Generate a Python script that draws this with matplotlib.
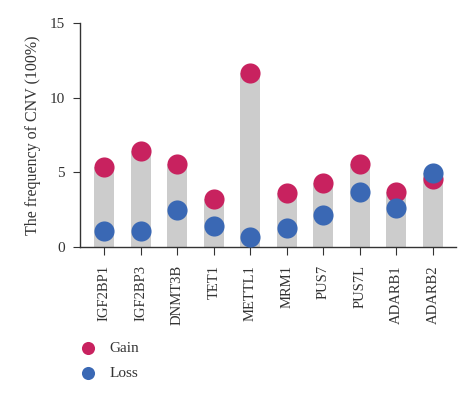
import matplotlib.pyplot as plt
import numpy as np

genes = ["IGF2BP1", "IGF2BP3", "DNMT3B", "TET1", "METTL1",
         "MRM1", "PUS7", "PUS7L", "ADARB1", "ADARB2"]
gain = [5.34, 6.43, 5.54, 3.21, 11.63, 3.60, 4.31, 5.54, 3.66, 4.55]
loss = [1.07, 1.09, 2.48, 1.41, 0.65, 1.25, 2.14, 3.70, 2.63, 4.93]

plt.rcParams['font.family'] = ['Liberation Serif', 'DejaVu Serif']

fig = plt.figure(figsize=(4.74, 3.99), dpi=100)
ax = fig.add_axes([0.169, 0.381, 0.793, 0.561])

x = np.arange(len(genes))
top = np.maximum(gain, loss)
ax.bar(x, top, width=0.55, color="#cccccc", zorder=1)
g = ax.scatter(x, gain, s=210, color="#c8225f", zorder=2, label="Gain", linewidths=0)
l = ax.scatter(x, loss, s=210, color="#3a68b4", zorder=3, label="Loss", linewidths=0)

ax.set_xlim(-0.66, 9.63)
ax.set_ylim(0, 15)
ax.set_yticks([0, 5, 10, 15])
ax.set_xticks(x)
ax.set_xticklabels(genes, rotation=90, fontsize=10.5, color="#333333")
ax.tick_params(axis="y", labelsize=11, length=5, colors="#333333", labelcolor="#333333", pad=6)
ax.tick_params(axis="x", length=6, color="#333333", pad=7)
ax.set_ylabel("The frequency of CNV (100%)", fontsize=11.5, color="#333333", labelpad=6)
for s in ["top", "right"]:
    ax.spines[s].set_visible(False)
for s in ["left", "bottom"]:
    ax.spines[s].set_color("#333333")
    ax.spines[s].set_linewidth(1.0)

fig.legend(handles=[g, l], loc="upper left", bbox_to_anchor=(0.125, 0.18),
           frameon=False, fontsize=11, markerscale=0.65, handletextpad=0.4,
           labelspacing=0.75, labelcolor="#333333")

plt.savefig("out.png")
